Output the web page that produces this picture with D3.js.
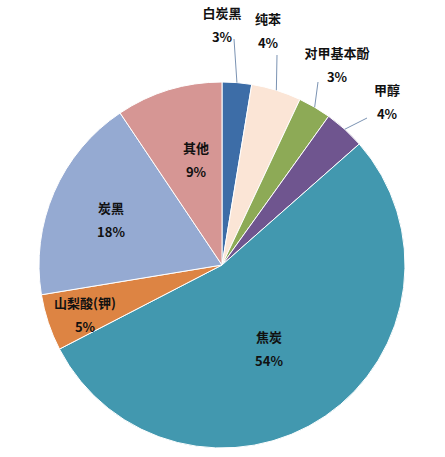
<!DOCTYPE html>
<html><head><meta charset="utf-8">
<script src="https://cdn.jsdelivr.net/npm/d3@7"></script>
<style>body{margin:0;background:#fff}svg{display:block}</style>
</head><body>
<svg id="c" width="445" height="457"></svg>
<script>
const categories = ["白炭黑","纯苯","对甲基本酚","甲醇","焦炭","山梨酸(钾)","炭黑","其他"];
const values = [2.6, 4.4, 2.9, 3.6, 53.9, 5.0, 18.2, 9.4];
const colors = ["#3D6DA7","#FBE5D6","#8DAA56","#6F558F","#4298AF","#DD8443","#95AAD2","#D69694"];
// layout: label centre offsets from pie centre, and whether a leader line is drawn
const labelPos = [[0,-240],[46,-234],[115,-200],[165,-163],[47,84],[-137,50],[-111,-45],[-26,-105]];
const leaderEnd = [[12,-226],[55,-210],[96,-183],[145,-147],null,null,null,null];

const W=445,H=457,cx=222,cy=265,R=183;
const svg=d3.select("#c");
const g=svg.append("g").attr("transform",`translate(${cx},${cy})`);
const pie=d3.pie().sort(null).value(d=>d)(values);
const arc=d3.arc().innerRadius(0).outerRadius(R);
g.selectAll("path.s").data(pie).join("path").attr("class","s")
 .attr("d",arc).attr("fill",(d,i)=>colors[i]).attr("stroke","#fff").attr("stroke-width",1);

const total=d3.sum(values);
const fmt=v=>Math.round(v/total*100)+"%";
pie.forEach((d,i)=>{
  const mid=(d.startAngle+d.endAngle)/2;
  if(leaderEnd[i]){
    const x0=R*Math.sin(mid), y0=-R*Math.cos(mid);
    g.append("line").attr("x1",x0).attr("y1",y0).attr("x2",leaderEnd[i][0]).attr("y2",leaderEnd[i][1])
     .attr("stroke","#7B93B3").attr("stroke-width",1);
  }
  const [lx,ly]=labelPos[i];
  const t=g.append("text").attr("text-anchor","middle")
    .attr("font-family","'Noto Sans CJK SC','Microsoft YaHei',sans-serif")
    .attr("font-weight","bold").attr("font-size",13).attr("fill","#111");
  t.append("tspan").attr("x",lx).attr("y",ly-7).text(categories[i]);
  t.append("tspan").attr("x",lx).attr("y",ly+17).text(fmt(values[i]));
});
</script>
</body></html>
